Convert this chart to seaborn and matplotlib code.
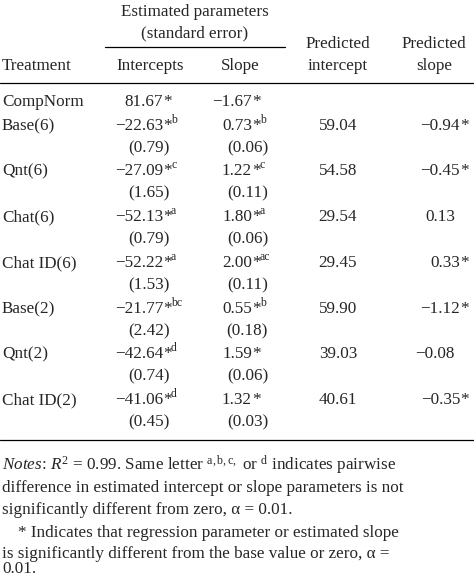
import matplotlib
matplotlib.use("Agg")
import matplotlib.pyplot as plt
import seaborn as sns

sns.set_theme(style="white")
plt.rcParams['font.family'] = ['Liberation Serif', 'DejaVu Serif']
plt.rcParams['mathtext.fontset'] = 'custom'
plt.rcParams['mathtext.rm'] = 'Liberation Serif'
plt.rcParams['mathtext.it'] = 'Liberation Serif:italic'

treatments = ["CompNorm", "Base(6)", "Qnt(6)", "Chat(6)", "Chat ID(6)", "Base(2)", "Qnt(2)", "Chat ID(2)"]
intercepts = ["81.67", "\u221222.63", "\u221227.09", "\u221252.13", "\u221252.22", "\u221221.77", "\u221242.64", "\u221241.06"]
int_sup = ["", "b", "c", "a", "a", "bc", "d", "d"]
int_se = ["", "(0.79)", "(1.65)", "(0.79)", "(1.53)", "(2.42)", "(0.74)", "(0.45)"]
slopes = ["\u22121.67", "0.73", "1.22", "1.80", "2.00", "0.55", "1.59", "1.32"]
slope_sup = ["", "b", "c", "a", "ac", "b", "", ""]
slope_se = ["", "(0.06)", "(0.11)", "(0.06)", "(0.11)", "(0.18)", "(0.06)", "(0.03)"]
pred_int = ["", "59.04", "54.58", "29.54", "29.45", "59.90", "39.03", "40.61"]
pred_slope = ["", "\u22120.94*", "\u22120.45*", "0.13", "0.33*", "\u22121.12*", "\u22120.08", "\u22120.35*"]

W, H = 474, 578
fig = plt.figure(figsize=(W/100, H/100), dpi=100)
fs = 12.3

def t(x, y, s, ha='left', size=fs, **kw):
    fig.text(x/W, 1-y/H, s, ha=ha, va='center', fontsize=size, **kw)

def hline(y, x0, x1, lw=0.9):
    fig.add_artist(plt.Line2D([x0/W, x1/W], [1-y/H, 1-y/H], color='black', lw=lw))

t(195, 12, "Estimated parameters", ha='center')
t(195, 33, "(standard error)", ha='center')
hline(47, 105, 285)
t(2, 66, "Treatment")
t(150, 66, "Intercepts", ha='center')
t(240, 66, "Slope", ha='center')
t(338, 44, "Predicted", ha='center')
t(338, 66, "intercept", ha='center')
t(434, 44, "Predicted", ha='center')
t(434, 66, "slope", ha='center')
hline(83, 0, 474)

ys = [102, 126, 171, 217, 263, 309, 354, 400]
for i, y in enumerate(ys):
    t(2, y, treatments[i])
    t(163, y, intercepts[i], ha='right')
    t(163, y, "*", ha='left')
    if int_sup[i]:
        t(171, y-6, int_sup[i], size=8.5)
    if int_se[i]:
        t(170, y+22, int_se[i], ha='right')
    t(252, y, slopes[i], ha='right')
    t(252, y, "*", ha='left')
    if slope_sup[i]:
        t(260, y-6, slope_sup[i], size=8.5)
    if slope_se[i]:
        t(268, y+22, slope_se[i], ha='right')
    if pred_int[i]:
        t(357, y, pred_int[i], ha='right')
    if pred_slope[i]:
        s = pred_slope[i]
        if s.endswith("*"):
            t(460, y, s[:-1], ha='right'); t(460, y, "*")
        else:
            t(455, y, s, ha='right')
hline(440, 0, 474)

fig.text(2/W, 1-465/H, r"$\it{Notes}$: $\it{R}^{2}$ = 0.99. Same letter $^{\rm a,b,c,}$ or $^{\rm d}$ indicates pairwise",
         ha='left', va='center', fontsize=fs)
t(2, 488, "difference in estimated intercept or slope parameters is not")
t(2, 510, "significantly different from zero, \u03b1 = 0.01.")
t(18, 533, "* Indicates that regression parameter or estimated slope")
t(2, 554, "is significantly different from the base value or zero, \u03b1 =")
t(2, 569, "0.01.")

fig.savefig("out.png", dpi=100)
